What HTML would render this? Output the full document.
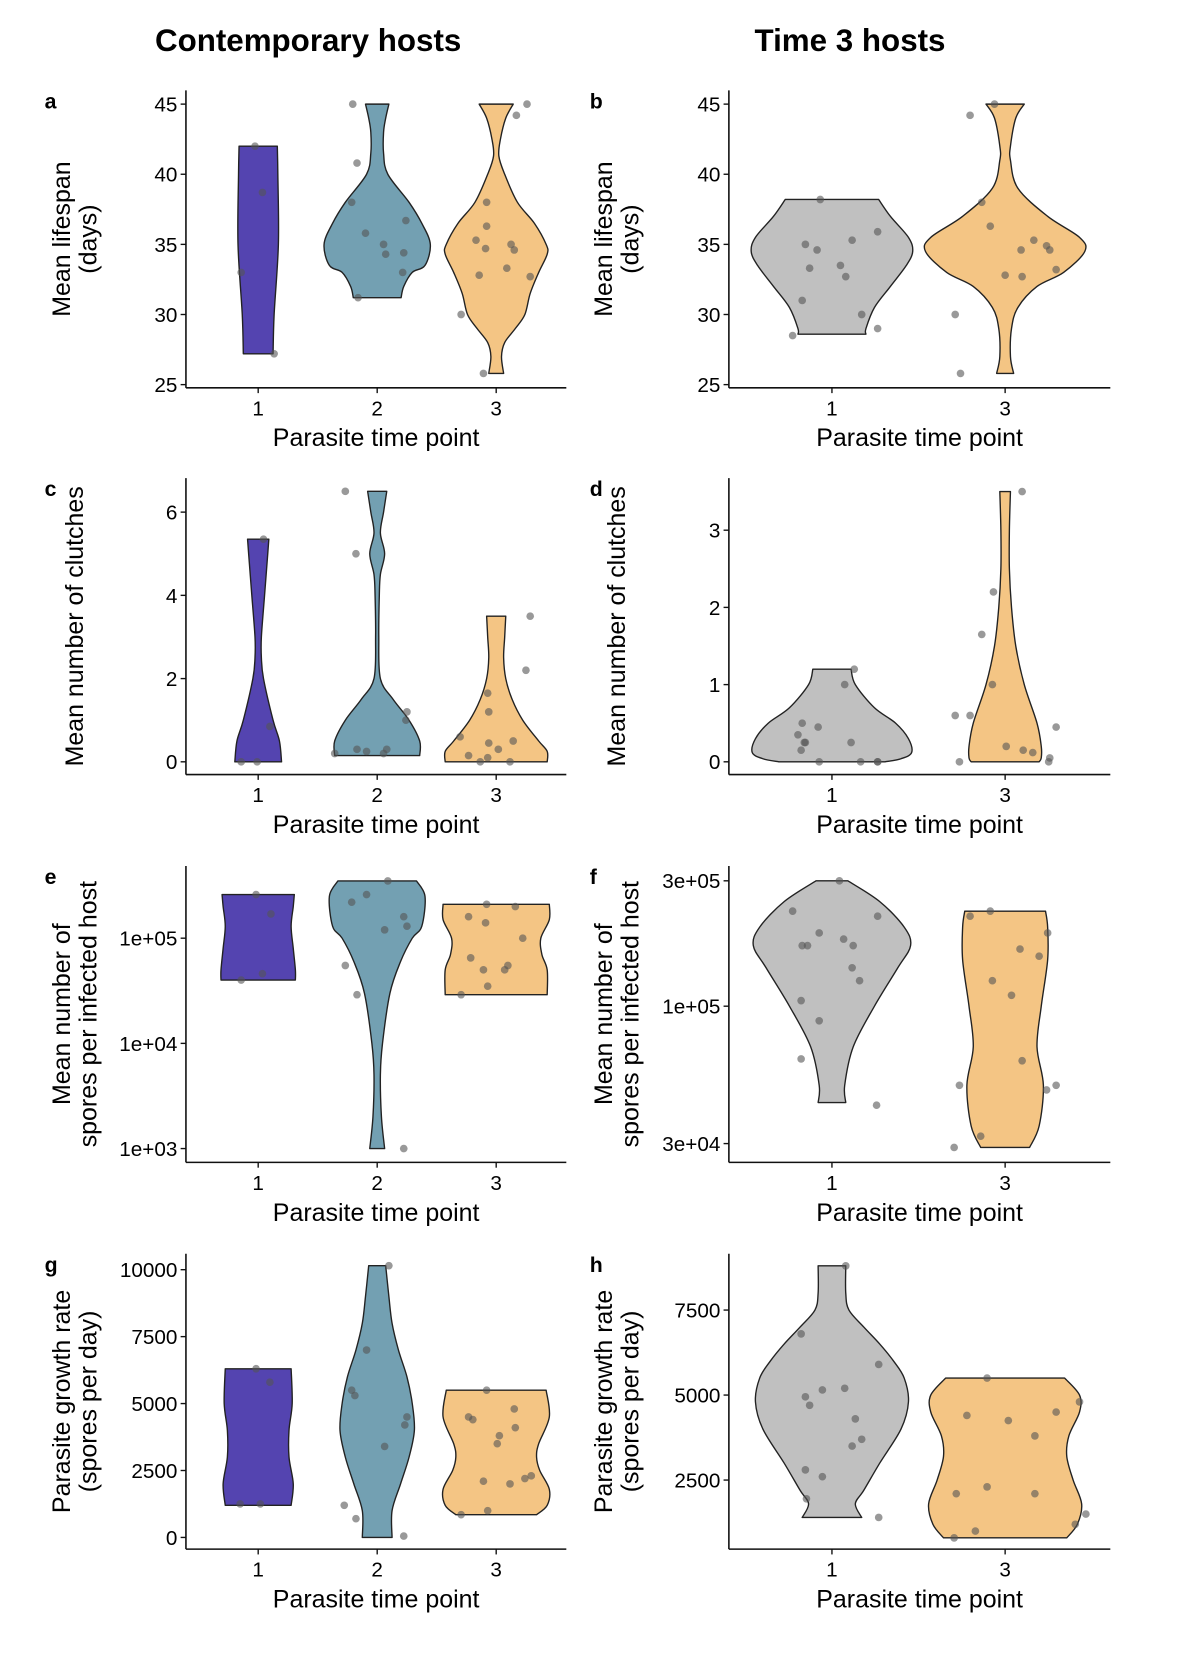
<!DOCTYPE html>
<html><head><meta charset="utf-8"><style>
html,body{margin:0;padding:0;background:#fff}
svg{display:block}
text{font-family:"Liberation Sans",Arial,sans-serif;fill:#000}
</style></head><body>
<svg id="fig" width="1200" height="1666" viewBox="0 0 1129.4 1568" preserveAspectRatio="none" xmlns="http://www.w3.org/2000/svg">
<text x="290" y="48" font-size="29.5" font-weight="bold" text-anchor="middle">Contemporary hosts</text>
<text x="800" y="48" font-size="29.5" font-weight="bold" text-anchor="middle">Time 3 hosts</text>
</svg>
<script>
// ---------- DATA ----------
const catsLeft = ["1","2","3"];
const catsRight = ["1","3"];
// violin profiles: [value, halfWidthPx]; points: [value, xOffsetPx]
const aV1 = [[42,18],[40,18.5],[35,19],[30,15],[27.2,14]];
const aV2 = [[45,11],[44,8],[43,6],[41.5,6],[40,10],[38,30],[36.5,42],[35,50],[33.5,45],[33,33],[32,25],[31.2,22.5]];
const aV3 = [[45,16],[44,9],[42.5,4],[41.3,2.5],[40,8],[38,20],[36.5,36],[35,47],[34.3,48],[33,40],[31.5,32],[30,27],[29,18],[28,8],[27,5],[25.8,7]];
const aP1 = [[42,-3],[38.7,4],[33,-16],[27.2,15]];
const aP2 = [[45,-23],[40.8,-19],[38,-24],[35.8,-11],[35,6],[34.3,8],[34.4,25],[36.7,27],[33,24],[31.2,-18]];
const aP3 = [[45,29],[44.2,19],[38,-9],[36.3,-9],[35.3,-19],[34.7,-10],[35,14],[34.6,17],[33.3,10],[32.8,-16],[32.7,32],[30,-33],[25.8,-12]];
const bV1 = [[38.2,44],[37,55],[35.5,72],[34.5,76],[33.5,70],[32,55],[30.5,40],[29,32],[28.6,32]];
const bV3 = [[45,18],[44,10],[42,5],[41,5],[39,12],[37,40],[35.5,70],[34.5,75],[33,55],[32,30],[30.5,12],[29,6],[27,5],[25.8,8]];
const bP1 = [[38.2,-11],[35,-25],[35.3,19],[35.9,43],[34.6,-14],[33.3,-21],[33.5,8],[32.7,13],[31,-28],[30,28],[29,43],[28.5,-37]];
const bP3 = [[45,-10],[44.2,-33],[38,-22],[36.3,-14],[35.3,27],[34.9,39],[34.6,42],[34.6,15],[33.2,48],[32.8,0],[32.7,16],[30,-47],[25.8,-42]];
const cV1 = [[5.35,10],[5,9],[4,6],[3,3],[2.5,3],[2,5],[1,14],[0.5,20],[0,22]];
const cV2 = [[6.5,9],[6,6],[5.5,3],[5,7],[4.5,3],[4,2],[3,1.5],[2,3],[1.5,15],[1,30],[0.5,40],[0.15,40]];
const cV3 = [[3.5,9],[3,8],[2.5,7],[2,9],[1.5,15],[1,25],[0.5,40],[0.25,48],[0,48]];
const cP1 = [[5.35,5],[0.85,11],[0,-16],[0,-1]];
const cP2 = [[6.5,-30],[5,-20],[1.2,28],[1,27],[0.3,-19],[0.25,-10],[0.2,6],[0.3,9],[0.2,-40]];
const cP3 = [[3.5,32],[2.2,28],[1.65,-8],[1.2,-7],[0.6,-34],[0.5,16],[0.45,-7],[0.3,2],[0.15,-26],[0.1,-8],[0,-15],[0,13]];
const dV1 = [[1.2,18],[1.0,22],[0.7,40],[0.5,60],[0.3,72],[0.12,75],[0.04,65],[0,50]];
const dV3 = [[3.5,5],[3,4],[2.5,4],[2,6],[1.5,10],[1,18],[0.5,30],[0.2,34],[0.05,34],[0,32]];
const dP1 = [[1.2,21],[1.0,12],[0.5,-28],[0.45,-13],[0.35,-32],[0.25,-26],[0.25,-25],[0.25,18],[0.15,-29],[0,-12],[0,27],[0,43],[0,43]];
const dP3 = [[3.5,16],[2.2,-11],[1.65,-22],[1.0,-12],[0.6,-47],[0.6,-33],[0.45,48],[0.2,1],[0.15,17],[0.12,26],[0.05,42],[0,-43],[0,41]];
const eV1 = [[2.6e5,34],[2e5,33],[1.3e5,31],[8e4,33],[5e4,35],[4e4,35]];
const eV2 = [[3.5e5,37],[2.5e5,45],[1.3e5,42],[1e5,33],[6e4,22],[3e4,12],[1e4,5],[5e3,3],[2e3,4],[1e3,7]];
const eV3 = [[2.1e5,50],[1.5e5,50],[1e5,42],[7e4,43],[5e4,48],[2.9e4,48]];
const eP1 = [[2.6e5,-2],[1.7e5,12],[4.6e4,4],[4e4,-16]];
const eP2 = [[3.5e5,10],[2.6e5,-10],[2.2e5,-24],[1.3e5,28],[1.2e5,7],[1.6e5,25],[5.5e4,-30],[2.9e4,-19],[1e3,25]];
const eP3 = [[2.1e5,-9],[2e5,18],[1.6e5,-26],[1.4e5,-10],[1e5,25],[6.5e4,-24],[5.5e4,11],[5e4,8],[5e4,-12],[3.5e4,-8],[2.9e4,-33]];
const fV1 = [[3e5,15],[2.5e5,45],[2e5,68],[1.7e5,74],[1.4e5,62],[1e5,40],[7e4,20],[5e4,12],[4.3e4,13]];
const fV3 = [[2.3e5,38],[2e5,40],[1.5e5,40],[1e5,34],[7e4,30],[5e4,36],[3.5e4,32],[2.9e4,23]];
const fP1 = [[3e5,7],[2.3e5,-37],[2.2e5,43],[1.9e5,-12],[1.8e5,11],[1.7e5,-23],[1.7e5,-28],[1.7e5,20],[1.4e5,19],[1.25e5,26],[1.05e5,-29],[8.8e4,-12],[6.3e4,-29],[4.2e4,42]];
const fP3 = [[2.3e5,-14],[2.2e5,-33],[1.9e5,40],[1.65e5,14],[1.55e5,32],[1.25e5,-12],[1.1e5,6],[6.2e4,16],[5e4,-43],[4.8e4,39],[5e4,48],[3.2e4,-23],[2.9e4,-48]];
const gV1 = [[6300,31],[5000,32],[4000,29],[3000,29],[2000,33],[1200,31]];
const gV2 = [[10150,8],[9000,11],[8000,14],[7000,20],[6000,28],[5000,33],[4000,35],[3000,30],[2000,22],[1000,14],[0,14]];
const gV3 = [[5500,47],[4500,50],[3500,40],[3000,38],[2500,41],[1800,50],[1200,48],[850,38]];
const gP1 = [[6300,-2],[5800,11],[1250,-17],[1250,2]];
const gP2 = [[10150,11],[7000,-10],[5500,-24],[5300,-21],[4500,28],[4200,26],[3400,7],[1200,-31],[700,-20],[50,25]];
const gP3 = [[5500,-9],[4800,17],[4500,-26],[4400,-22],[4100,18],[3800,3],[3500,1],[2100,-12],[2000,13],[2200,27],[2300,33],[1000,-8],[850,-33]];
const hV1 = [[8800,13],[8000,13],[7500,16],[7000,30],[6500,45],[6000,58],[5500,68],[4800,72],[4000,65],[3000,45],[2200,30],[1800,22],[1400,28]];
const hV3 = [[5500,56],[5000,70],[4500,70],[3800,60],[3200,58],[2500,64],[1800,72],[1200,68],[800,58]];
const hP1 = [[8800,13],[6800,-29],[5900,44],[5200,12],[5150,-9],[4950,-25],[4700,-21],[4300,22],[3700,28],[3500,19],[2800,-25],[2600,-9],[1950,-24],[1400,44]];
const hP3 = [[5500,-17],[4800,70],[4500,48],[4400,-36],[4250,3],[3800,28],[2300,-17],[2100,28],[2100,-46],[1500,76],[1200,66],[1000,-28],[800,-48]];

const aTicks=[25,30,35,40,45], cTicks=[0,2,4,6], dTicks=[0,1,2,3];
const eTicks=[1e3,1e4,1e5], eTickLabels=["1e+03","1e+04","1e+05"];
const fTicks=[3e4,1e5,3e5], fTickLabels=["3e+04","1e+05","3e+05"];
const gTicks=[0,2500,5000,7500,10000], hTicks=[2500,5000,7500];

// ---------- LAYOUT ----------
const NS="http://www.w3.org/2000/svg";
const svg=document.getElementById('fig');
const COL={p:"#5444b0",b:"#73a0b2",o:"#f4c584",g:"#c0c0c0"};
function mk(tag,attrs,parent){const e=document.createElementNS(NS,tag);for(const k in attrs)e.setAttribute(k,attrs[k]);(parent||svg).appendChild(e);return e;}
function linScale(v0,y0,v1,y1){return v=>y0+(v-v0)*(y1-y0)/(v1-v0);}
function logScale(v0,y0,v1,y1){const a=Math.log10(v0),b=Math.log10(v1);return v=>y0+(Math.log10(v)-a)*(y1-y0)/(b-a);}
// Catmull-Rom through points (open), returns path segment string (excluding initial M)
function smooth(pts){
  let s="";
  for(let i=0;i<pts.length-1;i++){
    const p0=pts[Math.max(0,i-1)],p1=pts[i],p2=pts[i+1],p3=pts[Math.min(pts.length-1,i+2)];
    const c1x=p1[0]+(p2[0]-p0[0])/6,c1y=p1[1]+(p2[1]-p0[1])/6;
    const c2x=p2[0]-(p3[0]-p1[0])/6,c2y=p2[1]-(p3[1]-p1[1])/6;
    s+=" C"+c1x.toFixed(2)+","+c1y.toFixed(2)+" "+c2x.toFixed(2)+","+c2y.toFixed(2)+" "+p2[0].toFixed(2)+","+p2[1].toFixed(2);
  }
  return s;
}

const L={ax:175,x1:533,cx:{"1":243,"2":355,"3":467}};
const R={ax:686,x1:1045,cx:{"1":783,"3":946}};

function panel(o){
  const g=mk('g',{});
  
  
  const G=o.side==='L'?L:R;
  const lt=mk('text',{x:o.side==='L'?42:555,y:o.axTop+17,'font-size':20,'font-weight':'bold'},g);
  lt.textContent=o.letter;
  
  
  o.violins.forEach((vi,i)=>{
    const cx=G.cx[o.cats[i]];
    const prof=vi.prof;
    const right=prof.map(p=>[cx+p[1],o.y(p[0])]);
    const left=prof.map(p=>[cx-p[1],o.y(p[0])]).reverse();
    let d="M"+right[0][0]+","+right[0][1]+smooth(right)+" L"+left[0][0]+","+left[0][1]+smooth(left)+" Z";
    const pth=mk('path',{d:d,fill:vi.col,stroke:"#222",'stroke-width':1.3,'stroke-linejoin':'round'},g);
    
    
  });
  o.violins.forEach((vi,i)=>{
    const cx=G.cx[o.cats[i]];
    vi.pts.forEach(p=>{
      const c=mk('circle',{cx:cx+p[1],cy:o.y(p[0]),r:3.6,fill:"#555",'fill-opacity':0.6},g);
      
      
    });
  });
  const yAx=mk('line',{x1:G.ax,y1:o.axTop,x2:G.ax,y2:o.axBot,stroke:"#111",'stroke-width':1.5},g);
  
  
  const xAx=mk('line',{x1:G.ax,y1:o.axBot,x2:G.x1,y2:o.axBot,stroke:"#111",'stroke-width':1.5},g);
  
  
  o.ticks.forEach((t,i)=>{
    const y=o.y(t);
    mk('line',{x1:G.ax-5,y1:y,x2:G.ax,y2:y,stroke:"#111",'stroke-width':1.3},g);
    const tx=mk('text',{x:G.ax-8,y:y+7,'font-size':19.5,'text-anchor':'end',fill:'#222'},g);
    tx.textContent=o.tickLabels?o.tickLabels[i]:String(t);
    
    
  });
  o.cats.forEach(c=>{
    const x=G.cx[c];
    mk('line',{x1:x,y1:o.axBot,x2:x,y2:o.axBot+5,stroke:"#111",'stroke-width':1.3},g);
    const tx=mk('text',{x:x,y:o.axBot+26,'font-size':19.5,'text-anchor':'middle',fill:'#222'},g);
    tx.textContent=c;
    
    
  });
  const xt=mk('text',{x:(G.ax+G.x1)/2,y:o.axBot+55,'font-size':23.5,'text-anchor':'middle'},g);
  xt.textContent="Parasite time point";
  
  
  const cy=(o.axTop+o.axBot)/2;
  const bx=o.side==='L'?0:510;
  const lines=o.ytitle;
  lines.forEach((s,i)=>{
    const x=lines.length===1?bx+78:bx+66+i*25;
    const t=mk('text',{x:x,y:cy,'font-size':23.5,'text-anchor':'middle',transform:'rotate(-90 '+x+' '+cy+')'},g);
    t.textContent=s;
    
    
  });
}

const ya=linScale(45,98,25,362);
panel({letter:'a',side:'L',axTop:85,axBot:365,y:ya,ticks:aTicks,cats:catsLeft,ytitle:["Mean lifespan","(days)"],
  violins:[{prof:aV1,pts:aP1,col:COL.p},{prof:aV2,pts:aP2,col:COL.b},{prof:aV3,pts:aP3,col:COL.o}]});
panel({letter:'b',side:'R',axTop:85,axBot:365,y:ya,ticks:aTicks,cats:catsRight,ytitle:["Mean lifespan","(days)"],
  violins:[{prof:bV1,pts:bP1,col:COL.g},{prof:bV3,pts:bP3,col:COL.o}]});
panel({letter:'c',side:'L',axTop:450,axBot:729,y:linScale(0,717,6,482),ticks:cTicks,cats:catsLeft,ytitle:["Mean number of clutches"],
  violins:[{prof:cV1,pts:cP1,col:COL.p},{prof:cV2,pts:cP2,col:COL.b},{prof:cV3,pts:cP3,col:COL.o}]});
panel({letter:'d',side:'R',axTop:450,axBot:729,y:linScale(0,717,3,499),ticks:dTicks,cats:catsRight,ytitle:["Mean number of clutches"],
  violins:[{prof:dV1,pts:dP1,col:COL.g},{prof:dV3,pts:dP3,col:COL.o}]});
panel({letter:'e',side:'L',axTop:815,axBot:1094,y:logScale(1e3,1081,1e5,883),ticks:eTicks,tickLabels:eTickLabels,cats:catsLeft,ytitle:["Mean number of","spores per infected host"],
  violins:[{prof:eV1,pts:eP1,col:COL.p},{prof:eV2,pts:eP2,col:COL.b},{prof:eV3,pts:eP3,col:COL.o}]});
panel({letter:'f',side:'R',axTop:815,axBot:1094,y:logScale(1e5,947,3e5,829),ticks:fTicks,tickLabels:fTickLabels,cats:catsRight,ytitle:["Mean number of","spores per infected host"],
  violins:[{prof:fV1,pts:fP1,col:COL.g},{prof:fV3,pts:fP3,col:COL.o}]});
panel({letter:'g',side:'L',axTop:1180,axBot:1458,y:linScale(0,1447,10000,1195),ticks:gTicks,cats:catsLeft,ytitle:["Parasite growth rate","(spores per day)"],
  violins:[{prof:gV1,pts:gP1,col:COL.p},{prof:gV2,pts:gP2,col:COL.b},{prof:gV3,pts:gP3,col:COL.o}]});
panel({letter:'h',side:'R',axTop:1180,axBot:1458,y:linScale(2500,1393,7500,1233),ticks:hTicks,cats:catsRight,ytitle:["Parasite growth rate","(spores per day)"],
  violins:[{prof:hV1,pts:hP1,col:COL.g},{prof:hV3,pts:hP3,col:COL.o}]});
</script>
</body></html>
